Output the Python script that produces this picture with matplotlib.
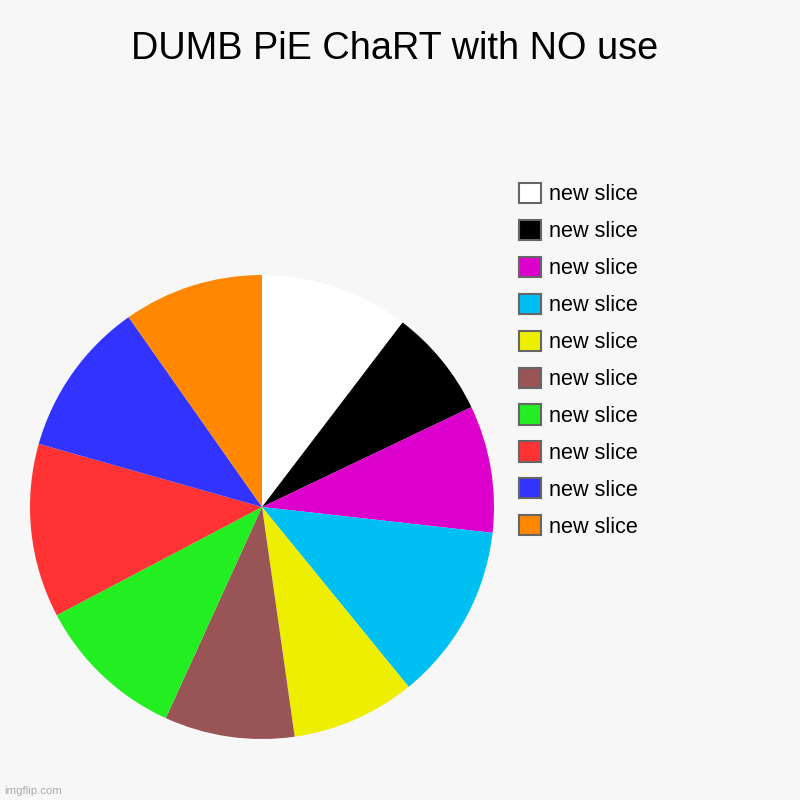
import matplotlib
matplotlib.use("Agg")
import matplotlib.pyplot as plt
from matplotlib.patches import Patch

labels = ["new slice"] * 10
values = [37.3, 27.2, 31.9, 44.4, 31.1, 32.6, 37.7, 43.6, 39.1, 35.1]
colors = ["#ffffff", "#000000", "#dd00cc", "#00bff3", "#eeee00",
          "#995555", "#22ee22", "#ff3333", "#3333ff", "#ff8800"]
title = "DUMB PiE ChaRT with NO use"

plt.rcParams['font.family'] = ['Liberation Sans', 'DejaVu Sans']
bg = "#f7f7f7"
fig = plt.figure(figsize=(8, 8), dpi=100, facecolor=bg)

cx, cy, r = 262 / 800, 1 - 507 / 800, 232 / 800
ax = fig.add_axes([cx - r, cy - r, 2 * r, 2 * r])
ax.set_facecolor(bg)
ax.pie(values, colors=colors, startangle=90, counterclock=False, radius=1,
       wedgeprops=dict(linewidth=0))
ax.set_xlim(-1, 1)
ax.set_ylim(-1, 1)
ax.set_aspect("equal")
ax.axis("off")

fig.text(395 / 800, 1 - 49 / 800, title, ha="center", va="center", fontsize=27.3, color="#000000")

handles = [Patch(facecolor=c, edgecolor="#666666", linewidth=1.5) for c in colors]
fig.legend(handles, labels, loc="upper left", bbox_to_anchor=(518.5 / 800, 1 - 183 / 800),
           frameon=False, fontsize=15.6, borderpad=0, borderaxespad=0,
           handlelength=1.05, handleheight=1.05, handletextpad=0.37, labelspacing=0.668)

fig.text(4 / 800, 1 - 791 / 800, "imgflip.com", ha="left", va="center", fontsize=8.2, color="#aaaaaa")

fig.savefig("out.png", dpi=100, facecolor=bg)
